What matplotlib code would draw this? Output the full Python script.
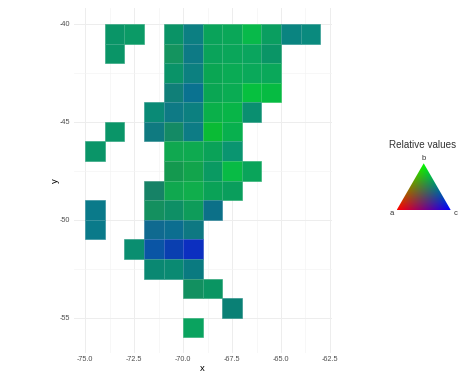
import numpy as np
import matplotlib
matplotlib.use("Agg")
import matplotlib.pyplot as plt
from matplotlib.patches import Polygon

plt.rcParams['font.family'] = ['Liberation Sans', 'DejaVu Sans']

# each row: top latitude, left longitudes, colours
row_tops = [-40, -41, -42, -43, -44, -45, -46, -47, -48, -49, -50, -51, -52, -53, -54, -55]
row_lefts = [
    [-74, -73, -71, -70, -69, -68, -67, -66, -65, -64],
    [-74, -71, -70, -69, -68, -67, -66],
    [-71, -70, -69, -68, -67, -66],
    [-71, -70, -69, -68, -67, -66],
    [-72, -71, -70, -69, -68, -67],
    [-74, -72, -71, -70, -69, -68],
    [-75, -71, -70, -69, -68],
    [-71, -70, -69, -68, -67],
    [-72, -71, -70, -69, -68],
    [-75, -72, -71, -70, -69],
    [-75, -72, -71, -70],
    [-73, -72, -71, -70],
    [-72, -71, -70],
    [-70, -69],
    [-68],
    [-70],
]
row_colors = [
    ['#0A9567', '#0B9A66', '#0A9366', '#0C7F82', '#0AA35A', '#0AA758', '#08B94A', '#0A9E60', '#0A8480', '#0A8A7E'],
    ['#0A9567', '#14945F', '#0D7A85', '#0AA35A', '#0AA65A', '#0AA55E', '#0A9566'],
    ['#0A9368', '#0C8080', '#0AA653', '#0AAB55', '#0AA95A', '#0AA85A'],
    ['#107F78', '#0A7290', '#0AA653', '#0AAC53', '#06C03F', '#06BB42'],
    ['#0A8A76', '#0E7A85', '#0C8080', '#0AB04A', '#08B548', '#0A8F70'],
    ['#0A9568', '#0F7A80', '#148A65', '#0D7C85', '#0ABB35', '#08B04E'],
    ['#0A9568', '#10A850', '#0EAA50', '#0AA258', '#0A9570'],
    ['#14994F', '#12A44C', '#0A9A62', '#08BB45', '#0AA45A'],
    ['#168266', '#10A84F', '#10AE4C', '#0AA257', '#0A9E5C'],
    ['#0A7A8A', '#14905F', '#0E8F65', '#0E9C5A', '#0C7088'],
    ['#0A7A8A', '#106A90', '#0C6E90', '#0E7882'],
    ['#0A8E70', '#0A55A5', '#0A3FB0', '#0C2FC0'],
    ['#0A8872', '#0A8A72', '#0A7A80'],
    ['#129060', '#0A9562'],
    ['#0A8075'],
    ['#0AA35F'],
]
x_ticks = [-75.0, -72.5, -70.0, -67.5, -65.0, -62.5]
y_ticks = [-40, -45, -50, -55]
x_minor = [-73.75, -71.25, -68.75, -66.25, -63.75]
y_minor = [-42.5, -47.5, -52.5]

W, H = 474, 382
fig = plt.figure(figsize=(W / 100, H / 100), dpi=100, facecolor='white')
L, R, T, B = 73.6, 331.9, 8.3, 353.0
ax = fig.add_axes([L / W, 1 - B / H, (R - L) / W, (B - T) / H])
ax.set_xlim(-75.6, -62.4)
ax.set_ylim(-56.8, -39.2)
for s in ax.spines.values():
    s.set_visible(False)
ax.set_axisbelow(True)
ax.set_xticks(x_ticks, [f"{v:.1f}" for v in x_ticks])
ax.set_yticks(y_ticks, [str(v) for v in y_ticks])
ax.set_xticks(x_minor, minor=True)
ax.set_yticks(y_minor, minor=True)
ax.grid(True, which='major', color='#EDEDED', lw=0.7)
ax.grid(True, which='minor', color='#F4F4F4', lw=0.5)
ax.tick_params(which='both', length=0)
ax.tick_params(axis='both', labelsize=5.2, labelcolor='#4D4D4D', pad=2.5)
ax.set_xlabel('x', fontsize=6.8, labelpad=0.5)
ax.set_ylabel('y', fontsize=6.8, labelpad=0)

for top, lefts, cols in zip(row_tops, row_lefts, row_colors):
    ax.bar(lefts, -1, width=1, bottom=top, align='edge', color=cols,
           edgecolor=cols, linewidth=0.4, zorder=2)
    ax.bar(lefts, -1, width=1, bottom=top, align='edge', color='none',
           edgecolor=(1, 1, 1, 0.14), linewidth=0.4, zorder=3)

# ternary colour key
tx0, tx1, ty0, ty1 = 396.7, 450.7, 163.3, 210.0
lax = fig.add_axes([tx0 / W, 1 - ty1 / H, (tx1 - tx0) / W, (ty1 - ty0) / H])
lax.set_axis_off()
lax.set_xlim(0, 1)
lax.set_ylim(0, 1)
n = 120
gx, gy = np.meshgrid(np.linspace(0, 1, n), np.linspace(0, 1, n))
b = gy
c = np.clip(gx - gy / 2, 0, 1)
a = np.clip(1 - b - c, 0, 1)
rgb = np.dstack([a, b, c])
im = lax.imshow(rgb, origin='lower', extent=(0, 1, 0, 1), aspect='auto', interpolation='bilinear')
tri = Polygon([[0, 0], [1, 0], [0.5, 1]], transform=lax.transData, fc='none', ec='none')
lax.add_patch(tri)
im.set_clip_path(tri)

fig.text(423 / W, 1 - 145 / H, 'Relative values', fontsize=7.1, color='#333333', ha='center', va='center')
fig.text(423.5 / W, 1 - 158 / H, 'b', fontsize=5.5, color='#333333', ha='center', va='center')
fig.text(391.5 / W, 1 - 213.5 / H, 'a', fontsize=5.5, color='#333333', ha='center', va='center')
fig.text(455.5 / W, 1 - 213.5 / H, 'c', fontsize=5.5, color='#333333', ha='center', va='center')

fig.savefig('out.png', dpi=100)
